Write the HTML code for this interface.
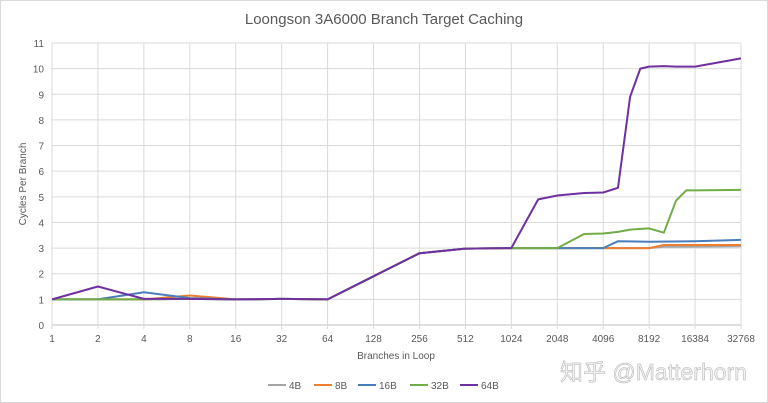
<!DOCTYPE html>
<html><head><meta charset="utf-8"><style>
html,body{margin:0;padding:0;background:#fff;}
svg{display:block;font-family:"Liberation Sans","Noto Sans CJK SC",sans-serif;}
</style></head><body>
<svg id="c" width="768" height="403" viewBox="0 0 768 403">
<rect x="0.5" y="0.5" width="767" height="402" fill="#fff" stroke="#d9d9d9"/>
<text x="384" y="24" text-anchor="middle" font-size="15" fill="#595959">Loongson 3A6000 Branch Target Caching</text>
<g id="grid"></g><g id="series"></g><g id="ticks"></g>
<text x="396" y="359" text-anchor="middle" font-size="10" fill="#595959">Branches in Loop</text>
<text transform="translate(26,184) rotate(-90)" text-anchor="middle" font-size="10" fill="#595959">Cycles Per Branch</text>
<g id="legend"></g>
<text x="747" y="380" text-anchor="end" font-size="23" fill="#f2f2f2" stroke="#b0b0b0" stroke-width="0.5">知乎 @Matterhorn</text>
</svg>
<script>
const xTickLabels=["1","2","4","8","16","32","64","128","256","512","1024","2048","4096","8192","16384","32768"];
const yTickLabels=[0,1,2,3,4,5,6,7,8,9,10,11];
const seriesNames=["4B","8B","16B","32B","64B"];
const seriesColors=["#a5a5a5","#ed7d31","#4a7ebb","#70ad47","#7030a0"];
const xs4B=[1,2,4,8,16,32,64,128,256,512,1024,2048,4096,8192,10240,16384,32768];
const ys4B=[1,1,1,1.02,1,1.02,1,1.9,2.8,2.98,3,3,3,3,3.05,3.05,3.07];
const xs8B=[1,2,4,8,16,32,64,128,256,512,1024,2048,4096,8192,10240,16384,32768];
const ys8B=[1,1,1,1.15,1,1.02,1,1.9,2.8,2.98,3,3,3,3,3.12,3.12,3.12];
const xs16B=[1,2,4,8,16,32,64,128,256,512,1024,2048,4096,5120,8192,16384,32768];
const ys16B=[1,1,1.28,1.05,1,1.02,1,1.9,2.8,2.98,3,3,3,3.27,3.25,3.27,3.32];
const xs32B=[1,2,4,8,16,32,64,128,256,512,1024,2048,3072,4096,5120,6144,8192,10240,12288,14336,16384,32768];
const ys32B=[1,1,1,1.02,1,1.02,1,1.9,2.8,2.98,3,3,3.55,3.57,3.63,3.72,3.77,3.6,4.85,5.25,5.25,5.27];
const xs64B=[1,2,4,8,16,32,64,128,256,512,1024,1536,2048,3072,4096,5120,6144,7168,8192,10240,12288,16384,32768];
const ys64B=[1,1.5,1.02,1.02,1,1.02,1,1.9,2.8,2.98,3,4.9,5.05,5.15,5.17,5.35,8.9,10.0,10.08,10.1,10.08,10.08,10.4];
const seriesX=[xs4B,xs8B,xs16B,xs32B,xs64B];
const seriesY=[ys4B,ys8B,ys16B,ys32B,ys64B];
const L=52,R=741,T=43,B=325;
const xScale=v=>L+Math.log2(v)/15*(R-L);
const yScale=v=>B-v/11*(B-T);
const NS="http://www.w3.org/2000/svg";
function mk(tag,attrs,parent){const e=document.createElementNS(NS,tag);for(const k in attrs)e.setAttribute(k,attrs[k]);document.getElementById(parent).appendChild(e);return e;}
yTickLabels.forEach(v=>{
 const y=yScale(v);
 const g=mk("line",{x1:L,x2:R,y1:y,y2:y,stroke:v===0?"#bfbfbf":"#d9d9d9","stroke-width":1},"grid");
 
 
 const t=mk("text",{x:L-8,y:y+4,"text-anchor":"end","font-size":10,fill:"#595959"},"ticks");
 t.textContent=v;
 
 
});
xTickLabels.forEach((lab,i)=>{
 const x=xScale(Math.pow(2,i));
 const g=mk("line",{x1:x,x2:x,y1:T,y2:B+4,stroke:"#d9d9d9","stroke-width":1},"grid");
 
 
 const t=mk("text",{x:x,y:342,"text-anchor":"middle","font-size":10,fill:"#595959"},"ticks");
 t.textContent=lab;
 
 
});
seriesNames.forEach((n,i)=>{
 const pts=seriesX[i].map((x,j)=>xScale(x).toFixed(1)+","+yScale(seriesY[i][j]).toFixed(1)).join(" ");
 const p=mk("polyline",{points:pts,fill:"none",stroke:seriesColors[i],"stroke-width":2,"stroke-linejoin":"round"},"series");
 
 
});
const legX=[268,314,358,410,460];
seriesNames.forEach((n,i)=>{
 const l=mk("line",{x1:legX[i],x2:legX[i]+18,y1:385,y2:385,stroke:seriesColors[i],"stroke-width":2},"legend");
 
 
 const t=mk("text",{x:legX[i]+21,y:389,"font-size":10,fill:"#595959"},"legend");
 t.textContent=n;
 
 
});
</script>
</body></html>
